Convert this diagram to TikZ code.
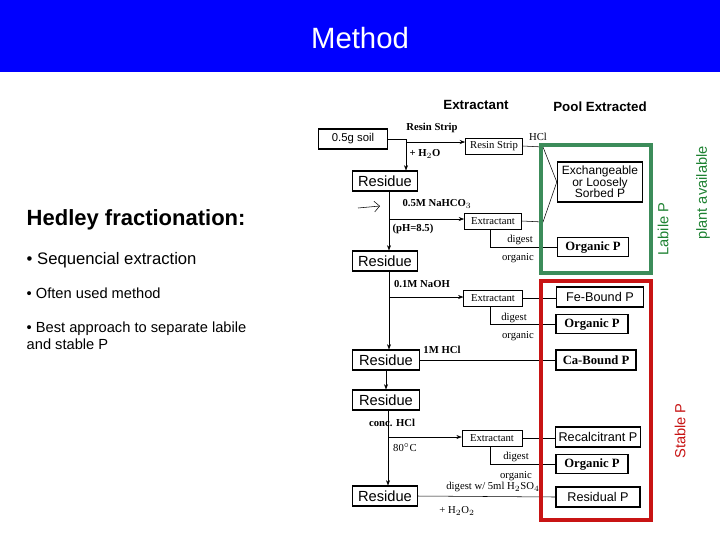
\documentclass[tikz,border=0pt]{standalone}
\usepackage{fontspec}
\setmainfont{Liberation Serif}
\setsansfont{Liberation Sans}
\usetikzlibrary{arrows.meta}
\begin{document}
\begin{tikzpicture}[x=0.75pt,y=-0.75pt,
  bx/.style={draw,thick,inner sep=0pt,font=\sffamily\fontsize{11}{11}\selectfont},
  sbx/.style={draw,inner sep=0pt,font=\fontsize{8}{9}\selectfont},
  lbl/.style={font=\bfseries\fontsize{8}{9}\selectfont,inner sep=0pt},
  sl/.style={font=\fontsize{8}{9}\selectfont,inner sep=0pt},
  ln/.style={draw,thin},
  ar/.style={draw,thin,-{Stealth[length=4pt]}},
  side/.style={rotate=90,font=\sffamily\fontsize{11}{12}\selectfont}]
\useasboundingbox (0,0) rectangle (720,540);
\fill[white] (0,0) rectangle (720,540);
\fill[blue] (0,0) rectangle (720,72);
\node[white,font=\sffamily\fontsize{22}{24}\selectfont] (title) at (360,38) {Method};
% left text
\node[anchor=west,font=\sffamily\bfseries\fontsize{16.5}{18}\selectfont] (h) at (22,220) {Hedley fractionation:};
\node[anchor=west,font=\sffamily\fontsize{12.5}{14}\selectfont] (b1) at (22,260) {• Sequencial extraction};
\node[anchor=west,font=\sffamily\fontsize{11}{13}\selectfont] (b2) at (22,293) {• Often used method};
\node[anchor=west,align=left,font=\sffamily\fontsize{11}{13}\selectfont] (b3) at (22,336) {• Best approach to separate labile\\and stable P};
% headers
\node[font=\sffamily\bfseries\fontsize{10}{11}\selectfont] (hx) at (476,105) {Extractant};
\node[font=\sffamily\bfseries\fontsize{10}{11}\selectfont] (hp) at (600,107) {Pool Extracted};
% left column boxes
\node[bx,minimum width=52pt,minimum height=15pt,font=\sffamily\fontsize{8.5}{9}\selectfont] (soil) at (353,139) {0.5g soil};
\node[bx,minimum width=49pt,minimum height=15pt] (r1) at (385,181) {Residue};
\node[bx,minimum width=49pt,minimum height=15pt] (r2) at (385,261) {Residue};
\node[bx,minimum width=50pt,minimum height=15pt] (r3) at (386,360) {Residue};
\node[bx,minimum width=50pt,minimum height=15pt] (r4) at (386,400) {Residue};
\node[bx,minimum width=49pt,minimum height=15pt] (r5) at (385,496) {Residue};
% extractant boxes
\node[sbx,minimum width=43pt,minimum height=12pt] (rs) at (494,146) {Resin Strip};
\node[sbx,minimum width=43pt,minimum height=12pt] (e1) at (493,221) {Extractant};
\node[sbx,minimum width=44pt,minimum height=12pt] (e2) at (493,298) {Extractant};
\node[sbx,minimum width=45pt,minimum height=12pt] (e3) at (492,438) {Extractant};
% pool boxes
\node[bx,minimum width=64pt,minimum height=30pt,align=center,font=\sffamily\fontsize{9}{8.5}\selectfont] (ex) at (600,182) {Exchangeable\\or Loosely\\Sorbed P};
\node[bx,minimum width=53pt,minimum height=14pt,font=\bfseries\fontsize{9.5}{10}\selectfont] (o1) at (593,247) {Organic P};
\node[bx,minimum width=65pt,minimum height=15pt,font=\sffamily\fontsize{9.5}{10}\selectfont] (fe) at (600,297) {Fe-Bound P};
\node[bx,minimum width=54pt,minimum height=14pt,font=\bfseries\fontsize{9.5}{10}\selectfont] (o2) at (592,324) {Organic P};
\node[bx,minimum width=60pt,minimum height=15pt,font=\bfseries\fontsize{9.5}{10}\selectfont] (ca) at (596,360) {Ca-Bound P};
\node[bx,minimum width=64pt,minimum height=15pt,font=\sffamily\fontsize{9.5}{10}\selectfont] (rc) at (598,437) {Recalcitrant P};
\node[bx,minimum width=54pt,minimum height=14pt,font=\bfseries\fontsize{9.5}{10}\selectfont] (o3) at (592,464) {Organic P};
\node[bx,minimum width=63pt,minimum height=15pt,font=\sffamily\fontsize{9.5}{10}\selectfont] (res) at (598,497) {Residual P};
% soil -> resin strip, residue
\coordinate (j0) at (406,142);
\draw[ln] (soil.east) -- (soil.east -| j0) -- (j0);
\draw[ar] (j0) -- (rs.west |- j0);
\draw[ar] (j0) -- (j0 |- r1.north);
\node[lbl] (l1) at (432,128) {Resin Strip};
\node[lbl] (l2) at (425,154) {+ H$_2$O};
\node[sl] (l3) at (538,137) {HCl};
% residue1
\coordinate (j1) at (389,219);
\draw[ar] (r1.south -| j1) -- (j1 |- r2.north);
\draw[ar] (j1) -- (e1.west |- j1);
\node[lbl] (l4) at (437,204) {0.5M NaHCO$_3$};
\node[lbl] (l5) at (413,229) {(pH=8.5)};
\coordinate (sa) at (358,208); \coordinate (sb) at (380,206);
\draw[thin,-{Straight Barb[length=4pt]}] (sa) -- (sb);
% to exchangeable
\coordinate (k1) at (543,147); \coordinate (k2) at (543,222);
\draw[ln] (rs.east) -- (k1) -- (ex.west);
\draw[ln] (e1.east) -- (k2) -- (ex.west);
\coordinate (d1) at (490,247);
\draw[ln] (e1.south -| d1) -- (d1) -- (o1.west);
\node[sl] (l6) at (520,240) {digest};
\node[sl] (l7) at (518,258) {organic};
% residue2
\coordinate (j2) at (389,297);
\draw[ar] (r2.south -| j2) -- (j2 |- r3.north);
\draw[ar] (j2) -- (e2.west |- j2);
\draw[ln] (e2.east) -- (fe.west |- e2.east);
\coordinate (d2) at (490,324);
\draw[ln] (e2.south -| d2) -- (d2) -- (o2.west);
\node[lbl] (l8) at (422,284) {0.1M NaOH};
\node[sl] (l9) at (514,318) {digest};
\node[sl] (l10) at (518,336) {organic};
% residue3
\draw[ln] (r3.east) -- (ca.west);
\node[lbl] (l11) at (442,350) {1M HCl};
\draw[ar] (r3.south) -- (r4.north);
% residue4
\coordinate (j4) at (388,437);
\draw[ar] (r4.south -| j4) -- (j4 |- r5.north);
\draw[ar] (j4) -- (e3.west |- j4);
\draw[ln] (e3.east) -- (rc.west |- e3.east);
\coordinate (d3) at (490,464);
\draw[ln] (e3.south -| d3) -- (d3) -- (o3.west);
\node[lbl] (l12) at (392,423) {conc. HCl};
\node[sl] (l13) at (405,448) {80$^\circ$C};
\node[sl] (l14) at (516,457) {digest};
\node[sl] (l15) at (516,476) {organic};
% residue5
\draw[ln] (r5.east) -- (res.west);
\node[sl] (l16) at (493,487) {digest w/ 5ml H$_2$SO$_4$};
\node[sl] (l17) at (457,511) {+ H$_2$O$_2$};
% groups
\draw[line width=2.5pt,draw={rgb,255:red,60;green,140;blue,90}] (541,145) rectangle (651,273);
\draw[line width=2.5pt,draw={rgb,255:red,200;green,20;blue,20}] (541,281) rectangle (651,520);
\node[side,text={rgb,255:red,30;green,130;blue,50}] (lab) at (663,229) {Labile P};
\node[side,text={rgb,255:red,30;green,130;blue,50}] (pa) at (703,193) {plant available};
\node[side,text={rgb,255:red,200;green,20;blue,20}] (st) at (680,431) {Stable P};
\end{tikzpicture}
\end{document}
